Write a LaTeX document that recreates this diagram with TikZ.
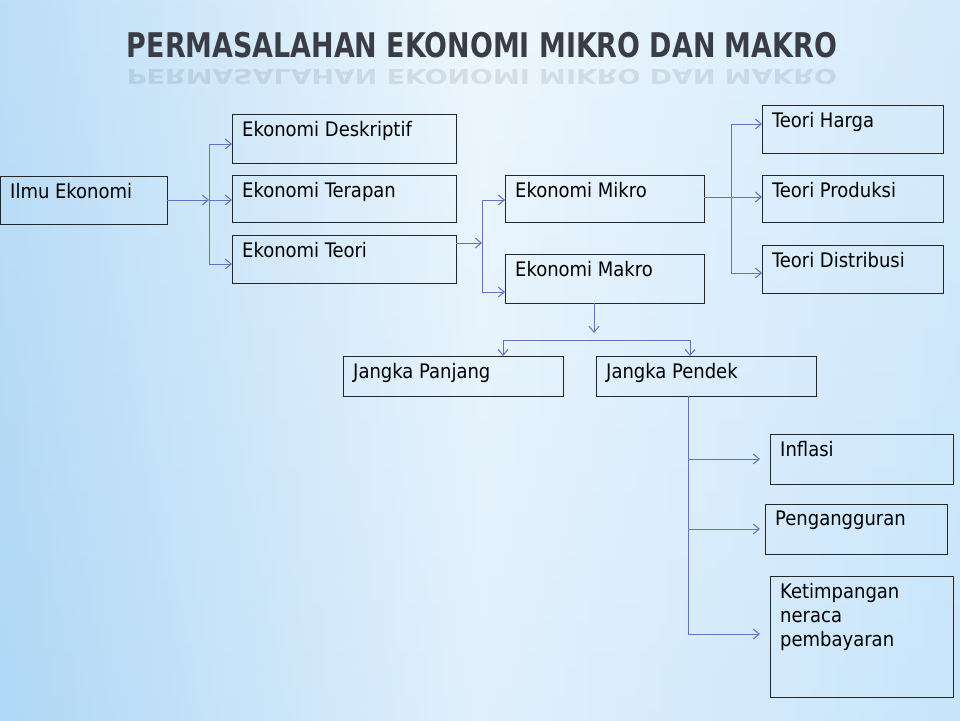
\documentclass[tikz,border=0pt]{standalone}
\usepackage{fontspec}
\setmainfont{DejaVu Sans}
\newfontfamily\titlefont{DejaVu Sans Condensed}
\usetikzlibrary{arrows.meta}
\definecolor{ln}{HTML}{6272C4}
\definecolor{bgl}{HTML}{9FCFF3}
\definecolor{bgr}{HTML}{C8E5FB}
\definecolor{ttl}{HTML}{3A3D45}
\begin{document}
\begin{tikzpicture}[x=1pt,y=-1pt,
  bx/.style={draw=black!85,line width=1pt},
  lbl/.style={anchor=north west,inner sep=0pt,font=\titlefont\fontsize{20}{24}\selectfont,align=left},
  cn/.style={draw=ln,line width=1pt},
  ar/.style={cn,-{Straight Barb[length=6pt,width=10pt]}}]
\useasboundingbox (0,0) rectangle (960,720);
\shade[left color=bgl,right color=bgr,middle color=white!85!bgl] (0,0) rectangle (960,720);
\shade[top color=white!60!bgr,bottom color=bgr,opacity=0.4] (0,0) rectangle (960,720);
\node[font=\titlefont\bfseries\fontsize{34}{38}\selectfont,text=ttl,xscale=0.88] (title) at (482,45) {PERMASALAHAN EKONOMI MIKRO DAN MAKRO};
\node[font=\titlefont\bfseries\fontsize{34}{38}\selectfont,text=ttl,xscale=0.88,yscale=-0.6,opacity=0.12] (titler) at (482,77) {PERMASALAHAN EKONOMI MIKRO DAN MAKRO};
% boxes
\newcommand{\bxx}[6]{\draw[bx] (#2,#3) rectangle (#4,#5); \node[lbl] (#1) at (#2+10,#3+7) {#6};}
\bxx{ilmu}{0}{176}{167}{224}{Ilmu Ekonomi}
\bxx{desk}{232}{114}{456}{163}{Ekonomi Deskriptif}
\bxx{tera}{232}{175}{456}{222}{Ekonomi Terapan}
\bxx{teor}{232}{235}{456}{283}{Ekonomi Teori}
\bxx{mikr}{505}{175}{704}{222}{Ekonomi Mikro}
\bxx{makr}{505}{254}{704}{303}{Ekonomi Makro}
\bxx{harg}{762}{105}{943}{153}{Teori Harga}
\bxx{prod}{762}{175}{943}{222}{Teori Produksi}
\bxx{dist}{762}{245}{943}{293}{Teori Distribusi}
\bxx{panj}{343}{356}{563}{396}{Jangka Panjang}
\bxx{pend}{596}{356}{816}{396}{Jangka Pendek}
\bxx{infl}{770}{434}{953}{484}{Inflasi}
\bxx{peng}{765}{504}{947}{554}{Pengangguran}
\bxx{ketm}{770}{576}{953}{697}{Ketimpangan\\neraca\\pembayaran}
% connectors
\coordinate (j1) at (209,200);
\draw[ar] (167,200) -- (j1);
\draw[cn] (209,144) -- (209,264);
\draw[ar] (209,144) -- (232,144);
\draw[ar] (209,200) -- (232,200);
\draw[ar] (209,264) -- (232,264);
\draw[ar] (456,243) -- (482,243);
\draw[cn] (482,200) -- (482,292);
\draw[ar] (482,200) -- (505,200);
\draw[ar] (482,292) -- (505,292);
\draw[cn] (704,197) -- (731,197);
\draw[cn] (731,124) -- (731,273);
\draw[ar] (731,124) -- (762,124);
\draw[ar] (731,197) -- (762,197);
\draw[ar] (731,273) -- (762,273);
\draw[ar] (594,303) -- (594,333);
\draw[cn] (503,340) -- (690,340);
\draw[ar] (503,340) -- (503,356);
\draw[ar] (690,340) -- (690,356);
\draw[cn] (688,396) -- (688,634);
\draw[ar] (688,459) -- (760,459);
\draw[ar] (688,529) -- (760,529);
\draw[ar] (688,634) -- (760,634);
\end{tikzpicture}
\end{document}
